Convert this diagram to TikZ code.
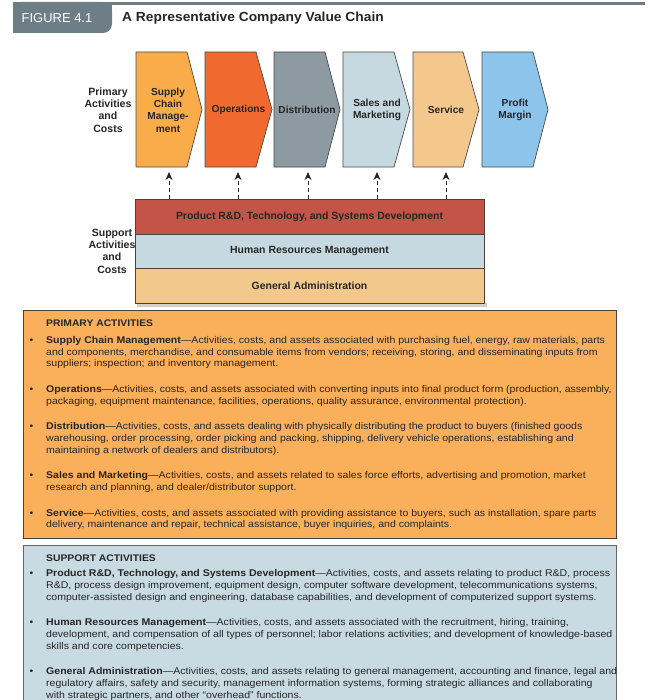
\documentclass[tikz,border=0pt]{standalone}
\usepackage{fontspec}
\setmainfont{Liberation Sans}
\newfontfamily\bodyfont[FakeStretch=1.08]{Liberation Sans}
\newfontfamily\titlefont[FakeStretch=1.05]{Liberation Sans}
\usetikzlibrary{arrows.meta}
\definecolor{hdr}{HTML}{6E7E87}
\definecolor{txt}{HTML}{262626}
\definecolor{chevline}{HTML}{4A4A4A}
\definecolor{boxline}{HTML}{4A4038}
\definecolor{cSupply}{HTML}{FAAC4B}
\definecolor{cOps}{HTML}{F06A30}
\definecolor{cDist}{HTML}{8E9AA2}
\definecolor{cSales}{HTML}{C7D9E0}
\definecolor{cServ}{HTML}{F4C88C}
\definecolor{cProfit}{HTML}{8CC4EC}
\definecolor{cRD}{HTML}{C45448}
\definecolor{cHR}{HTML}{C7D9E0}
\definecolor{cGA}{HTML}{F3C98B}
\definecolor{cPrim}{HTML}{FAAF5A}
\definecolor{cSupp}{HTML}{C8DAE2}
\newcommand\chevshape[4]{\filldraw[chev, fill=#4] (#1,52) -- (#2,52) -- (#3,109.5) -- (#2,167) -- (#1,167) -- cycle;}
\tikzset{
  chev/.style={draw=chevline, line width=0.7pt},
  clabel/.style={font=\bfseries\fontsize{10.2}{12.4}\selectfont, align=center, text=txt, inner sep=0},
  sidelabel/.style={font=\bfseries\fontsize{10.6}{12.3}\selectfont, align=center, text=txt, inner sep=0},
  rowbox/.style={draw=boxline, line width=0.8pt, minimum width=349bp, font=\bfseries\fontsize{10.5}{12}\selectfont, text=txt, inner sep=0},
  supparr/.style={dash pattern=on 4bp off 3bp, line width=1bp, draw=black!85, -{Stealth[length=8bp,width=7bp,inset=2.5bp]}, shorten >=5bp},
  bigbox/.style={draw=boxline, line width=0.9pt},
  heading/.style={anchor=west, inner sep=0, text depth=0pt, font=\bodyfont\bfseries\fontsize{9.6}{11.7}\selectfont, text=txt},
  body/.style={anchor=north west, inner sep=0, align=left, font=\bodyfont\fontsize{9.8}{11.7}\selectfont, text=txt},
  bul/.style={anchor=north, inner sep=0, font=\bodyfont\fontsize{9.8}{11.7}\selectfont, text=txt},
}
\begin{document}
\begin{tikzpicture}[x=1bp,y=-1bp]
\useasboundingbox (0,0) rectangle (670,700);
\clip (0,0) rectangle (670,700);
% header
\fill[hdr] (13,2) rectangle (645,5);
\fill[hdr, rounded corners=9bp] (13,2) rectangle (112,33);
\fill[hdr] (13,2) rectangle (60,33);
\fill[hdr] (13,2) rectangle (112,15);
\node[text=white, font=\fontsize{13}{15}\selectfont, inner sep=0] (fig) at (57,18) {FIGURE 4.1};
\node[anchor=west, text=txt, font=\titlefont\bfseries\fontsize{13.2}{15}\selectfont, inner sep=0] (title) at (122,18) {A Representative Company Value Chain};
% chevrons
\chevshape{136}{187}{202}{cSupply}
\chevshape{205}{256}{272}{cOps}
\chevshape{274}{325}{340}{cDist}
\chevshape{343}{394}{410}{cSales}
\chevshape{413}{463}{479}{cServ}
\chevshape{482}{533}{548}{cProfit}
\node[clabel] (sc) at (168,110) {Supply\\Chain\\Manage-\\ment};
\node[clabel] (op) at (238.5,110) {Operations};
\node[clabel] (di) at (307,110) {Distribution};
\node[clabel] (sm) at (377,110) {Sales and\\Marketing};
\node[clabel] (se) at (446,110) {Service};
\node[clabel] (pm) at (515,110) {Profit\\Margin};
\node[sidelabel] (plab) at (108,110) {Primary\\Activities\\and\\Costs};
% support rows
\fill[black!18] (137,303) rectangle (487,307);
\node[rowbox, fill=cRD, minimum height=35bp] (rd) at (309.5,216.5) {Product R\&D, Technology, and Systems Development};
\node[rowbox, fill=cHR, minimum height=34bp] (hr) at (309.5,251) {Human Resources Management};
\node[rowbox, fill=cGA, minimum height=35bp] (ga) at (309.5,285.5) {General Administration};
\node[sidelabel] (slab) at (112,251) {Support\\Activities\\and\\Costs};
% arrows
\coordinate (scb) at (169,167);
\coordinate (opb) at (238,167);
\coordinate (dib) at (308,167);
\coordinate (smb) at (377,167);
\coordinate (seb) at (446,167);
\foreach \c in {scb,opb,dib,smb,seb} \draw[supparr] (rd.north -| \c) -- (\c);
% primary box
\draw[bigbox, fill=cPrim] (23,310.5) rectangle (616,538);
\node[heading] (ph) at (46,323) {PRIMARY ACTIVITIES};
\node[bul] (pb1) at (31.5,335.3) {\strut•};
\node[body] (p1) at (46,335.3) {\strut\textbf{Supply Chain Management}—Activities, costs, and assets associated with purchasing fuel, energy, raw materials, parts\\
and components, merchandise, and consumable items from vendors; receiving, storing, and disseminating inputs from\\
suppliers; inspection; and inventory management.};
\node[bul] (pb2) at (31.5,384.3) {\strut•};
\node[body] (p2) at (46,384.3) {\strut\textbf{Operations}—Activities, costs, and assets associated with converting inputs into final product form (production, assembly,\\
packaging, equipment maintenance, facilities, operations, quality assurance, environmental protection).};
\node[bul] (pb3) at (31.5,421.6) {\strut•};
\node[body] (p3) at (46,421.6) {\strut\textbf{Distribution}—Activities, costs, and assets dealing with physically distributing the product to buyers (finished goods\\
warehousing, order processing, order picking and packing, shipping, delivery vehicle operations, establishing and\\
maintaining a network of dealers and distributors).};
\node[bul] (pb4) at (31.5,470.6) {\strut•};
\node[body] (p4) at (46,470.6) {\strut\textbf{Sales and Marketing}—Activities, costs, and assets related to sales force efforts, advertising and promotion, market\\
research and planning, and dealer/distributor support.};
\node[bul] (pb5) at (31.5,507.9) {\strut•};
\node[body] (p5) at (46,507.9) {\strut\textbf{Service}—Activities, costs, and assets associated with providing assistance to buyers, such as installation, spare parts\\
delivery, maintenance and repair, technical assistance, buyer inquiries, and complaints.};
% support box
\draw[bigbox, draw=black!60, fill=cSupp] (23,545) rectangle (616,720);
\node[heading] (sh) at (46,558.3) {SUPPORT ACTIVITIES};
\node[bul] (sb1) at (31.5,568.6) {\strut•};
\node[body] (s1) at (46,568.6) {\strut\textbf{Product R\&D, Technology, and Systems Development}—Activities, costs, and assets relating to product R\&D, process\\
R\&D, process design improvement, equipment design, computer software development, telecommunications systems,\\
computer-assisted design and engineering, database capabilities, and development of computerized support systems.};
\node[bul] (sb2) at (31.5,617.6) {\strut•};
\node[body] (s2) at (46,617.6) {\strut\textbf{Human Resources Management}—Activities, costs, and assets associated with the recruitment, hiring, training,\\
development, and compensation of all types of personnel; labor relations activities; and development of knowledge-based\\
skills and core competencies.};
\node[bul] (sb3) at (31.5,666.6) {\strut•};
\node[body] (s3) at (46,666.6) {\strut\textbf{General Administration}—Activities, costs, and assets relating to general management, accounting and finance, legal and\\
regulatory affairs, safety and security, management information systems, forming strategic alliances and collaborating\\
with strategic partners, and other “overhead” functions.};
\end{tikzpicture}
\end{document}
